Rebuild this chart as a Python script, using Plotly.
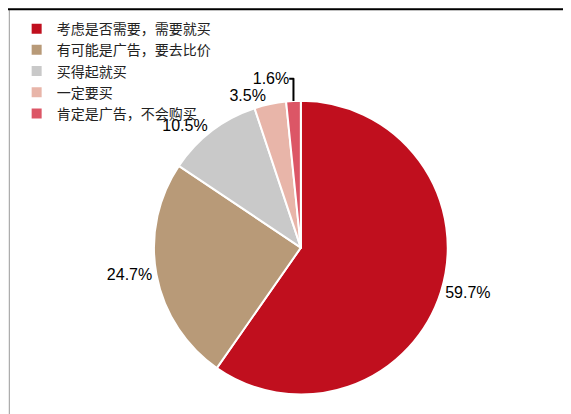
import plotly.graph_objects as go

labels = ['考虑是否需要，需要就买', '有可能是广告，要去比价', '买得起就买', '一定要买', '肯定是广告，不会购买']
values = [59.7, 24.7, 10.5, 3.5, 1.6]
colors = ['#C00F1E', '#B89A78', '#C9C9C9', '#E8B5A9', '#DC5666']

fig = go.Figure(go.Pie(
    labels=labels, values=values, sort=False, direction='clockwise', rotation=0,
    marker=dict(colors=colors, line=dict(color='white', width=2)),
    texttemplate='%{value}%', textposition='outside',
    textfont=dict(family='Arial, Liberation Sans', size=16, color='black'),
    domain=dict(x=[0.25, 0.776], y=[0.06, 0.78]),
))
fig.update_layout(
    width=571, height=414, margin=dict(l=3, r=3, t=3, b=3),
    paper_bgcolor='white', showlegend=True,
    legend=dict(orientation='h', x=0.01, y=0.995, xanchor='left', yanchor='top',
                entrywidth=292, entrywidthmode='pixels', traceorder='normal',
                bgcolor='rgba(0,0,0,0)',
                font=dict(family='Noto Sans CJK SC', size=14, color='#222'),
                itemwidth=30, tracegroupgap=0),
    shapes=[
        dict(type='rect', xref='paper', yref='paper', x0=-0.003, x1=1.003, y0=-0.004, y1=1.004,
             line=dict(color='#999', width=1)),
        dict(type='line', xref='paper', yref='paper', x0=-0.006, x1=1.006, y0=1.004, y1=1.004,
             line=dict(color='black', width=2)),
    ],
)
fig.write_html("out.html")
